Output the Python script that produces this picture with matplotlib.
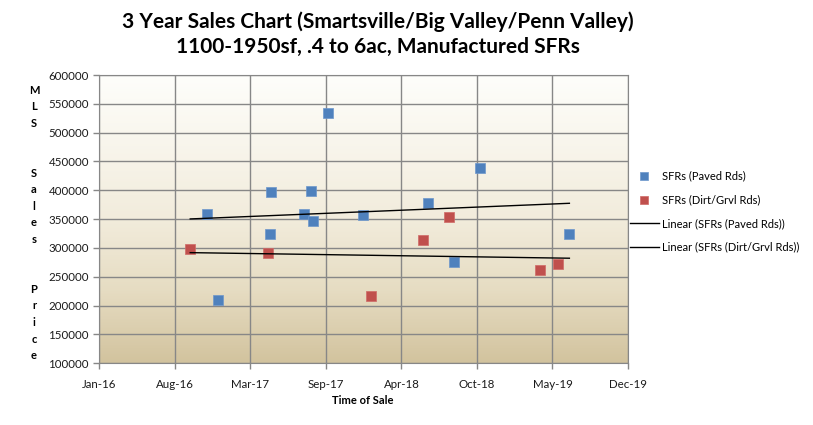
import matplotlib
matplotlib.use("Agg")
import matplotlib.pyplot as plt
import matplotlib.dates as mdates
import numpy as np
from datetime import datetime, timedelta
from matplotlib.colors import LinearSegmentedColormap

plt.rcParams['font.family'] = ['Lato', 'DejaVu Sans']

# ---- data ----
paved_dates = ["2016-11-08", "2016-12-07", "2017-04-26", "2017-04-24", "2017-07-24",
               "2017-08-11", "2017-08-17", "2017-09-25", "2017-12-28", "2018-06-20",
               "2018-08-27", "2018-11-04", "2019-06-30"]
paved_prices = [359000, 210000, 397000, 324000, 359000,
                398000, 347000, 534000, 358000, 378000,
                275000, 438000, 324000]

dirt_dates = ["2016-09-24", "2017-04-18", "2018-01-18", "2018-06-05",
              "2018-08-13", "2019-04-14", "2019-06-01"]
dirt_prices = [298000, 291000, 216000, 314000, 353000, 261000, 273000]

x_start = "2016-01-26"
x_step_days = 201
n_ticks = 8
y_ticks = [100000, 150000, 200000, 250000, 300000, 350000, 400000, 450000, 500000, 550000, 600000]

title = "3 Year Sales Chart (Smartsville/Big Valley/Penn Valley)\n1100-1950sf, .4 to 6ac, Manufactured SFRs"
series_names = ["SFRs (Paved Rds)", "SFRs (Dirt/Grvl Rds)"]
trend_names = ["Linear (SFRs (Paved Rds))", "Linear (SFRs (Dirt/Grvl Rds))"]
y_label = "MLS  Sales  Price"
x_label = "Time of Sale"

# ---- figure ----
fig = plt.figure(figsize=(8.13, 4.25), dpi=100)
fig.patch.set_facecolor("white")
ax = fig.add_axes([99.3/813, 1-363.3/425, (628-99.3)/813, (363.3-75)/425])

p_d = mdates.date2num([datetime.strptime(d, "%Y-%m-%d") for d in paved_dates])
r_d = mdates.date2num([datetime.strptime(d, "%Y-%m-%d") for d in dirt_dates])
x0 = mdates.date2num(datetime.strptime(x_start, "%Y-%m-%d"))
ticks = [x0 + i*x_step_days for i in range(n_ticks)]

ax.set_xlim(ticks[0], ticks[-1])
ax.set_ylim(y_ticks[0], y_ticks[-1])

# gradient background
cmap = LinearSegmentedColormap.from_list("bg", [(0, "#d2c39e"), (0.25, "#e6dcc2"), (0.5, "#f2ecdc"), (1.0, "#fefefb")])
grad = np.linspace(0, 1, 256).reshape(-1, 1)
ax.imshow(grad, cmap=cmap, aspect="auto", origin="lower",
          extent=[ticks[0], ticks[-1], y_ticks[0], y_ticks[-1]], zorder=0)

ax.set_xticks(ticks)
ax.xaxis.set_major_formatter(mdates.DateFormatter("%b-%y"))
ax.set_yticks(y_ticks)
ax.grid(True, color="#878787", linewidth=1.0, zorder=1)
for s in ax.spines.values():
    s.set_color("#878787")
ax.tick_params(axis="both", colors="#878787", labelcolor="#1a1a1a", labelsize=8.3, length=4, width=1)
ax.tick_params(axis="x", pad=7)

# trendlines over combined range
xmin = min(p_d.min(), r_d.min())
xmax = max(p_d.max(), r_d.max())
xx = np.array([xmin, xmax])
cp = np.polyfit(p_d, paved_prices, 1)
cr = np.polyfit(r_d, dirt_prices, 1)

ax.scatter(p_d, paved_prices, marker="s", s=48, color="#4f81bd", edgecolors="#6d97cc", linewidths=0.5, zorder=3, label=series_names[0])
ax.scatter(r_d, dirt_prices, marker="s", s=48, color="#c0504d", edgecolors="#d06a67", linewidths=0.5, zorder=3, label=series_names[1])
ax.plot(xx, np.polyval(cp, xx), color="black", linewidth=1.0, zorder=4, label=trend_names[0])
ax.plot(xx, np.polyval(cr, xx), color="black", linewidth=1.0, zorder=4, label=trend_names[1])

leg = ax.legend(loc="upper left", bbox_to_anchor=(0.995, 0.685), frameon=False, fontsize=8,
                handlelength=2.6, handletextpad=0.3, labelspacing=1.15, borderaxespad=0)
for h in leg.legend_handles[:2]:
    h.set_sizes([40])

fig.text(378/813, 1-34/425, title, ha="center", va="center", fontsize=15, fontweight="bold", linespacing=1.3)
fig.text(363/813, 1-401/425, x_label, ha="center", va="center", fontsize=8, fontweight="bold")
fig.text(34/813, 1-223/425, "\n".join(list(y_label)), ha="center", va="center", fontsize=8,
         fontweight="bold", linespacing=1.62)

fig.savefig("out.png", dpi=100)
